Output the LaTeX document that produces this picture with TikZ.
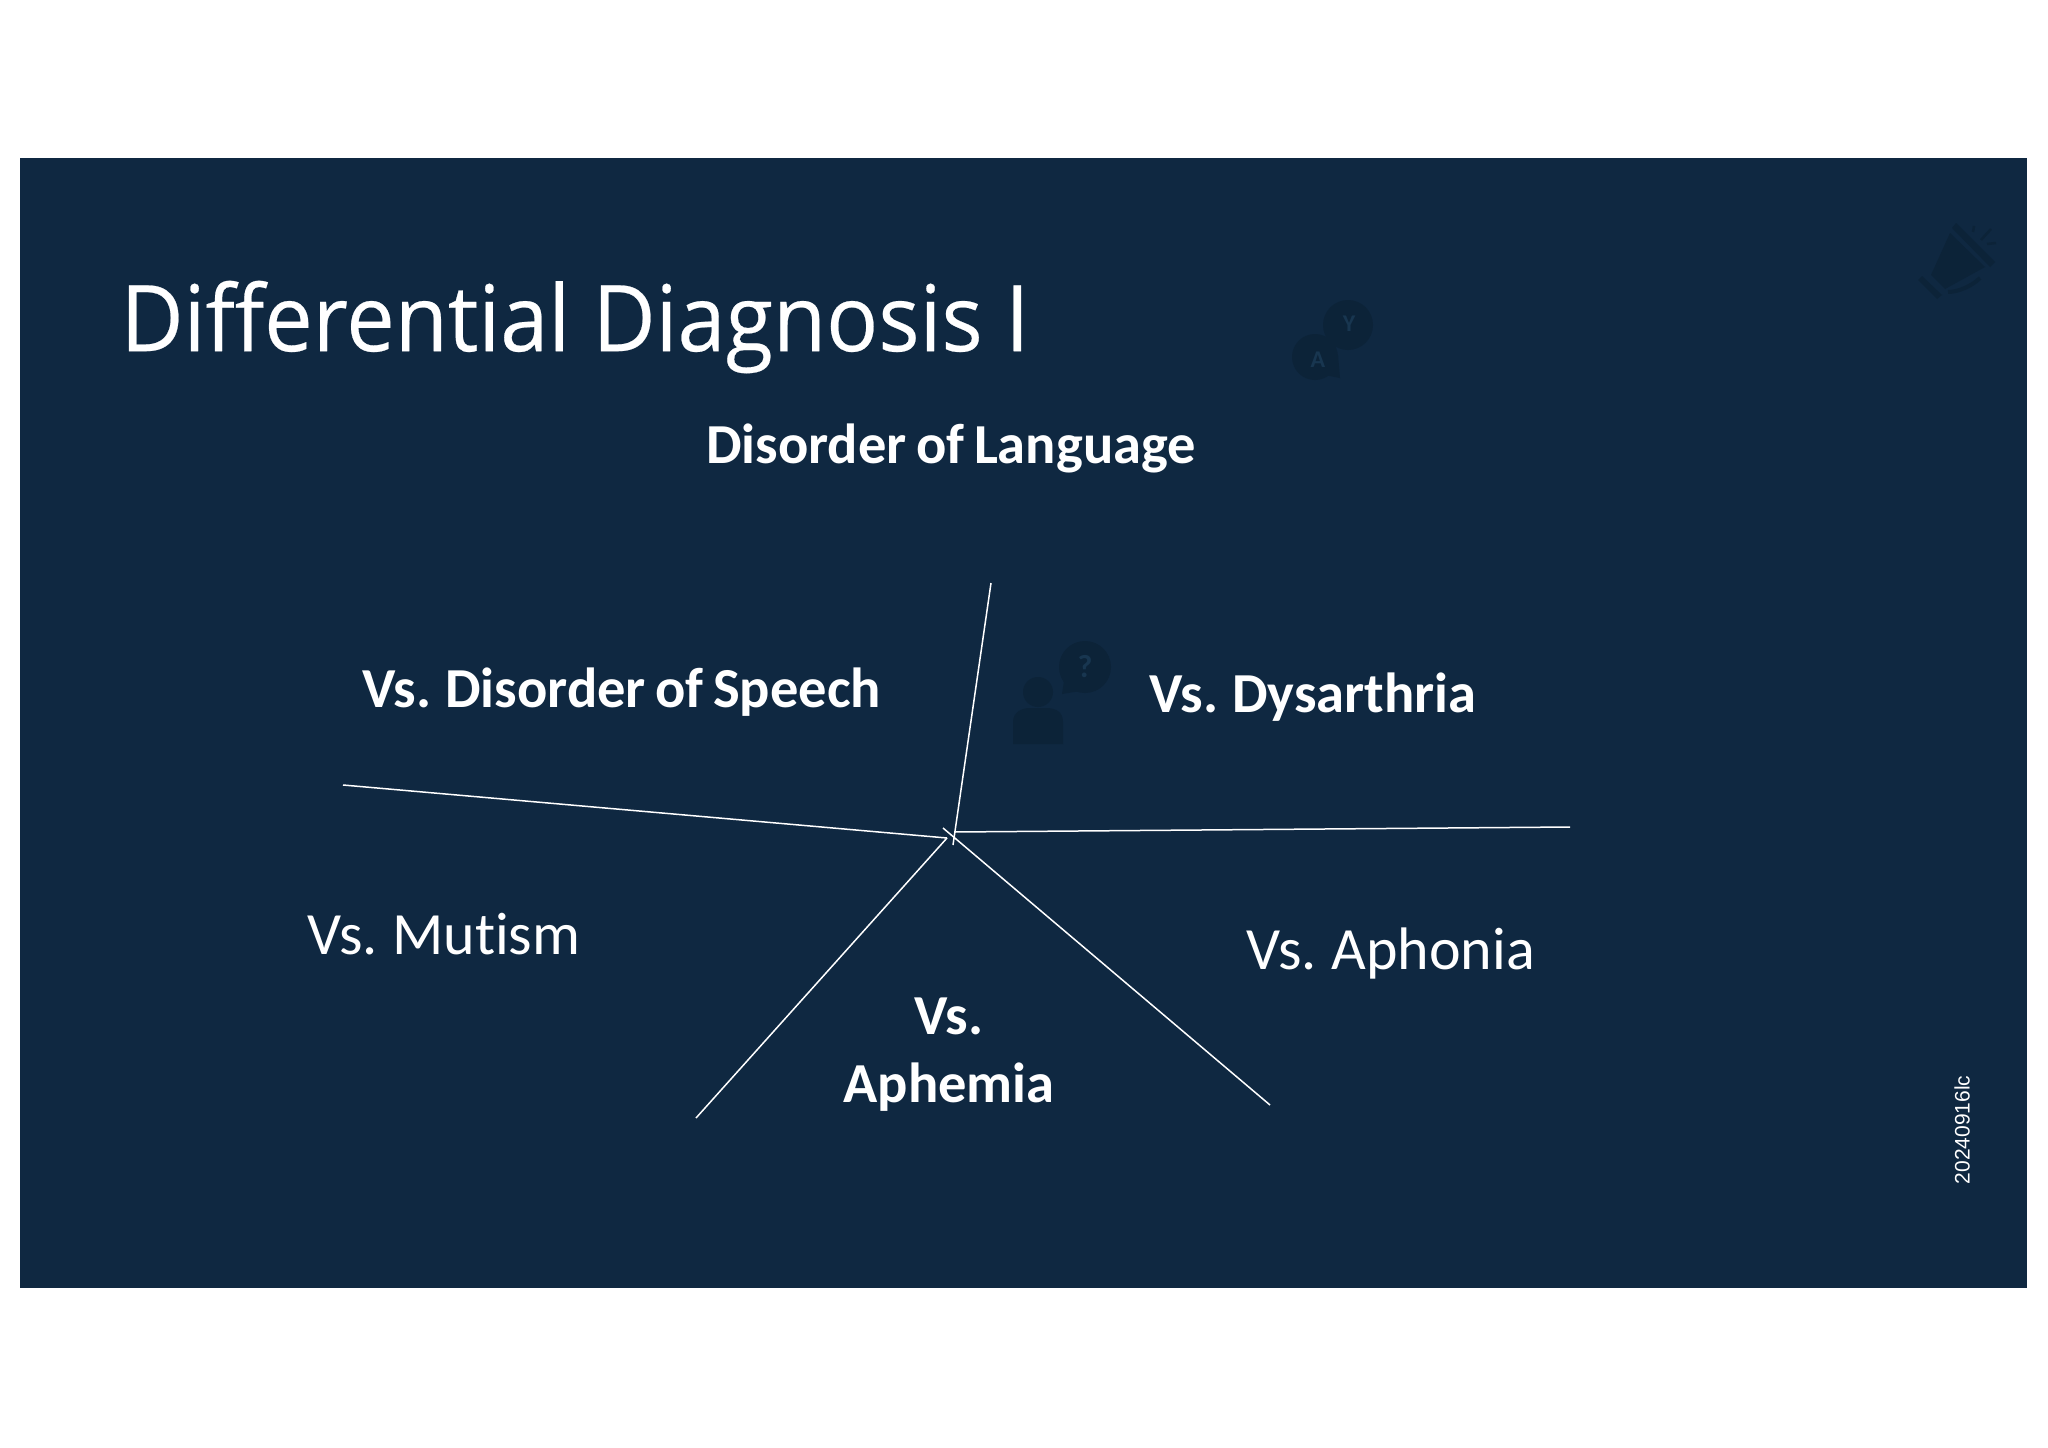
\documentclass[tikz,border=0pt]{standalone}
\usepackage{fontspec}
\setmainfont[Ligatures=NoCommon,WordSpace=0.75]{Carlito}
\newfontfamily\titlefont[FakeStretch=0.94,FakeBold=0.25]{Open Sans}
\newfontfamily\datefont{Liberation Sans}
\definecolor{panelblue}{HTML}{0F2841}
\definecolor{icondark}{HTML}{0C2338}
\definecolor{iconlight}{HTML}{183650}
\tikzset{
  x=1pt,y=-1pt,
  spoke/.style={draw=white,line width=1.5pt},
  vslabel/.style={text=white,anchor=center,inner sep=0pt,align=center,font=\fontsize{60}{68}\selectfont},
  vsbold/.style={vslabel,font=\fontsize{56.5}{68}\selectfont\bfseries},
  iconshape/.style={fill=icondark,draw=none},
  iconmark/.style={text=iconlight,inner sep=0pt,anchor=center,font=\bfseries\fontsize{24}{24}\selectfont}
}
\begin{document}
\begin{tikzpicture}
\useasboundingbox (0,0) rectangle (2048,1448);
\fill[white] (0,0) rectangle (2048,1448);
\fill[panelblue] (20,158) rectangle (2027,1288);
% faint icons
\fill[iconshape] (1348,325) circle (25);
\fill[iconshape] (1320,350) -- (1330,328) -- (1345,345) -- cycle;
\fill[iconshape] (1315,357) circle (23);
\fill[iconshape] (1325,375) -- (1340,378) -- (1338,355) -- cycle;
\node[iconmark] (iconY) at (1349,324) {Y};
\node[iconmark] (iconA) at (1318,360) {A};
\fill[iconshape] (1038,692) circle (15);
\fill[iconshape] (1013,744) -- (1013,722) .. controls (1013,712) and (1022,708) .. (1030,708) -- (1046,708) .. controls (1056,708) and (1063,712) .. (1063,722) -- (1063,744) -- cycle;
\fill[iconshape] (1085,667) circle (26);
\fill[iconshape] (1062,694) -- (1066,668) -- (1086,690) -- cycle;
\node[iconmark,font=\bfseries\fontsize{32}{32}\selectfont] (iconQ) at (1085,667) {?};
\fill[iconshape] (1952,228) -- (1956,223) -- (1995,262) -- (1990,267) -- cycle;
\fill[iconshape] (1950,233) -- (1985,267) -- (1945,289) -- (1931,275) -- cycle;
\fill[iconshape] (1918,280) -- (1922,276) -- (1942,295) -- (1937,299) -- cycle;
\draw[icondark,line width=4pt] (1948,292) .. controls (1958,292) and (1972,286) .. (1980,278);
\draw[icondark,line width=2.5pt] (1974,226) -- (1973,232);
\draw[icondark,line width=2.5pt] (1981,240) -- (1991,229);
\draw[icondark,line width=2.5pt] (1987,244) -- (1996,243);
% texts
\node[text=white,anchor=center,inner sep=0pt,font=\titlefont\fontsize{92}{100}\selectfont] (title) at (575,327) {Differential Diagnosis I};
\node[vsbold] (language) at (951,448) {Disorder of Language};
\node[vsbold] (speech) at (622,692) {Vs. Disorder of Speech};
\node[vsbold] (dysarthria) at (1313,697) {Vs. Dysarthria};
\node[vslabel] (mutism) at (444,934) {Vs. Mutism};
\node[vslabel] (aphonia) at (1391,953) {Vs. Aphonia};
\node[vsbold] (aphemia) at (949,1055) {Vs.\\Aphemia};
\node[text=white,rotate=90,anchor=center,inner sep=0pt,font=\datefont\fontsize{21}{24}\selectfont] (date) at (1962,1130) {20240916lc};
% spokes
\coordinate (upEnd) at (991,583);
\coordinate (upHub) at (953,845);
\coordinate (rightHub) at (954,832);
\coordinate (rightEnd) at (1570,827);
\coordinate (leftEnd) at (343,785);
\coordinate (leftHub) at (947,838);
\coordinate (lowLeftEnd) at (696,1118);
\coordinate (lowRightHub) at (943,828);
\coordinate (lowRightEnd) at (1270,1105);
\draw[spoke] (upEnd) -- (upHub);
\draw[spoke] (rightHub) -- (rightEnd);
\draw[spoke] (leftEnd) -- (leftHub);
\draw[spoke] (leftHub) -- (lowLeftEnd);
\draw[spoke] (lowRightHub) -- (lowRightEnd);
\end{tikzpicture}
\end{document}
